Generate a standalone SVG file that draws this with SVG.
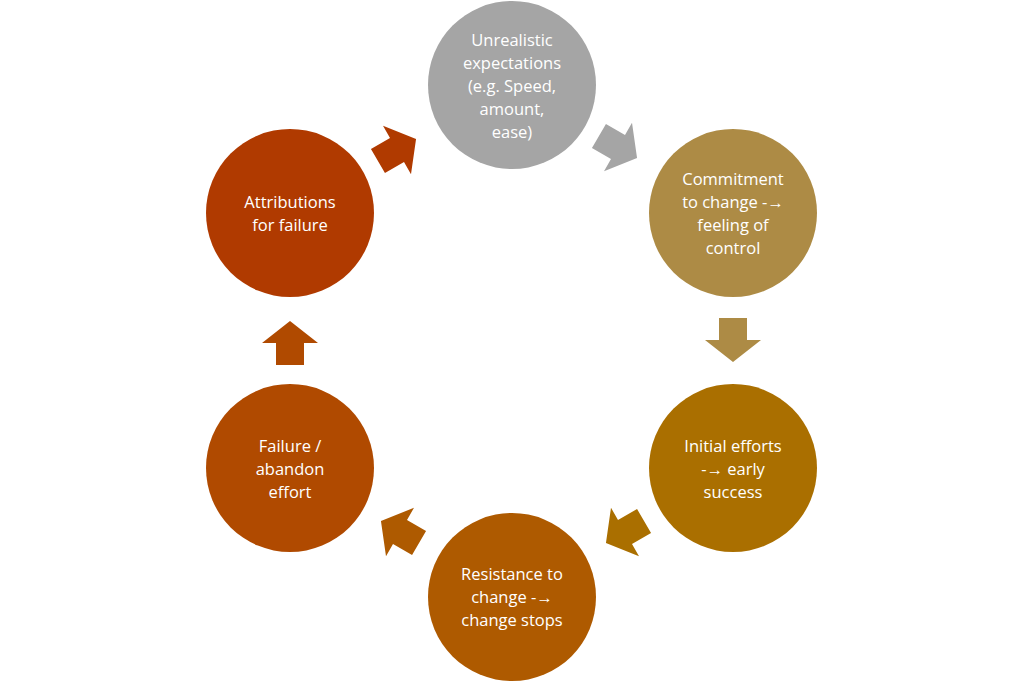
<svg xmlns="http://www.w3.org/2000/svg" width="1023" height="683" viewBox="0 0 1023 683">
<style>
text{font-family:"Open Sans","Liberation Sans",sans-serif;font-size:16.5px;fill:#fff;text-anchor:middle}
</style>
<defs><path id="arr" d="M-22,-14 H0 V-28 L22,0 L0,28 V14 H-22 Z"/></defs>
<rect width="1023" height="683" fill="#fff"/>
<g id="connectors">
<use href="#arr" fill="#A5A5A5" transform="translate(618,147) rotate(30)"/>
<use href="#arr" fill="#AD8B45" transform="translate(733,340) rotate(90)"/>
<use href="#arr" fill="#AA6F00" transform="translate(625,532) rotate(150)"/>
<use href="#arr" fill="#AE5A00" transform="translate(400,532) rotate(210)"/>
<use href="#arr" fill="#B04A00" transform="translate(290,343) rotate(270)"/>
<use href="#arr" fill="#B03A00" transform="translate(397,150) rotate(330)"/>
</g>
<g id="n1"><circle cx="512" cy="85" r="84" fill="#A5A5A5"/>
<text x="512" y="46">Unrealistic</text><text x="512" y="69">expectations</text><text x="512" y="92">(e.g. Speed,</text><text x="512" y="115">amount,</text><text x="512" y="138">ease)</text></g>
<g id="n2"><circle cx="733" cy="213" r="84" fill="#AD8B45"/>
<text x="733" y="185">Commitment</text><text x="733" y="208">to change -→</text><text x="733" y="231">feeling of</text><text x="733" y="254">control</text></g>
<g id="n3"><circle cx="733" cy="468" r="84" fill="#AA6F00"/>
<text x="733" y="452">Initial efforts</text><text x="733" y="475">-→ early</text><text x="733" y="498">success</text></g>
<g id="n4"><circle cx="512" cy="597" r="84" fill="#AE5A00"/>
<text x="512" y="580">Resistance to</text><text x="512" y="603">change -→</text><text x="512" y="626">change stops</text></g>
<g id="n5"><circle cx="290" cy="468" r="84" fill="#B04A00"/>
<text x="290" y="452">Failure /</text><text x="290" y="475">abandon</text><text x="290" y="498">effort</text></g>
<g id="n6"><circle cx="290" cy="213" r="84" fill="#B03A00"/>
<text x="290" y="208">Attributions</text><text x="290" y="231">for failure</text></g>
</svg>
